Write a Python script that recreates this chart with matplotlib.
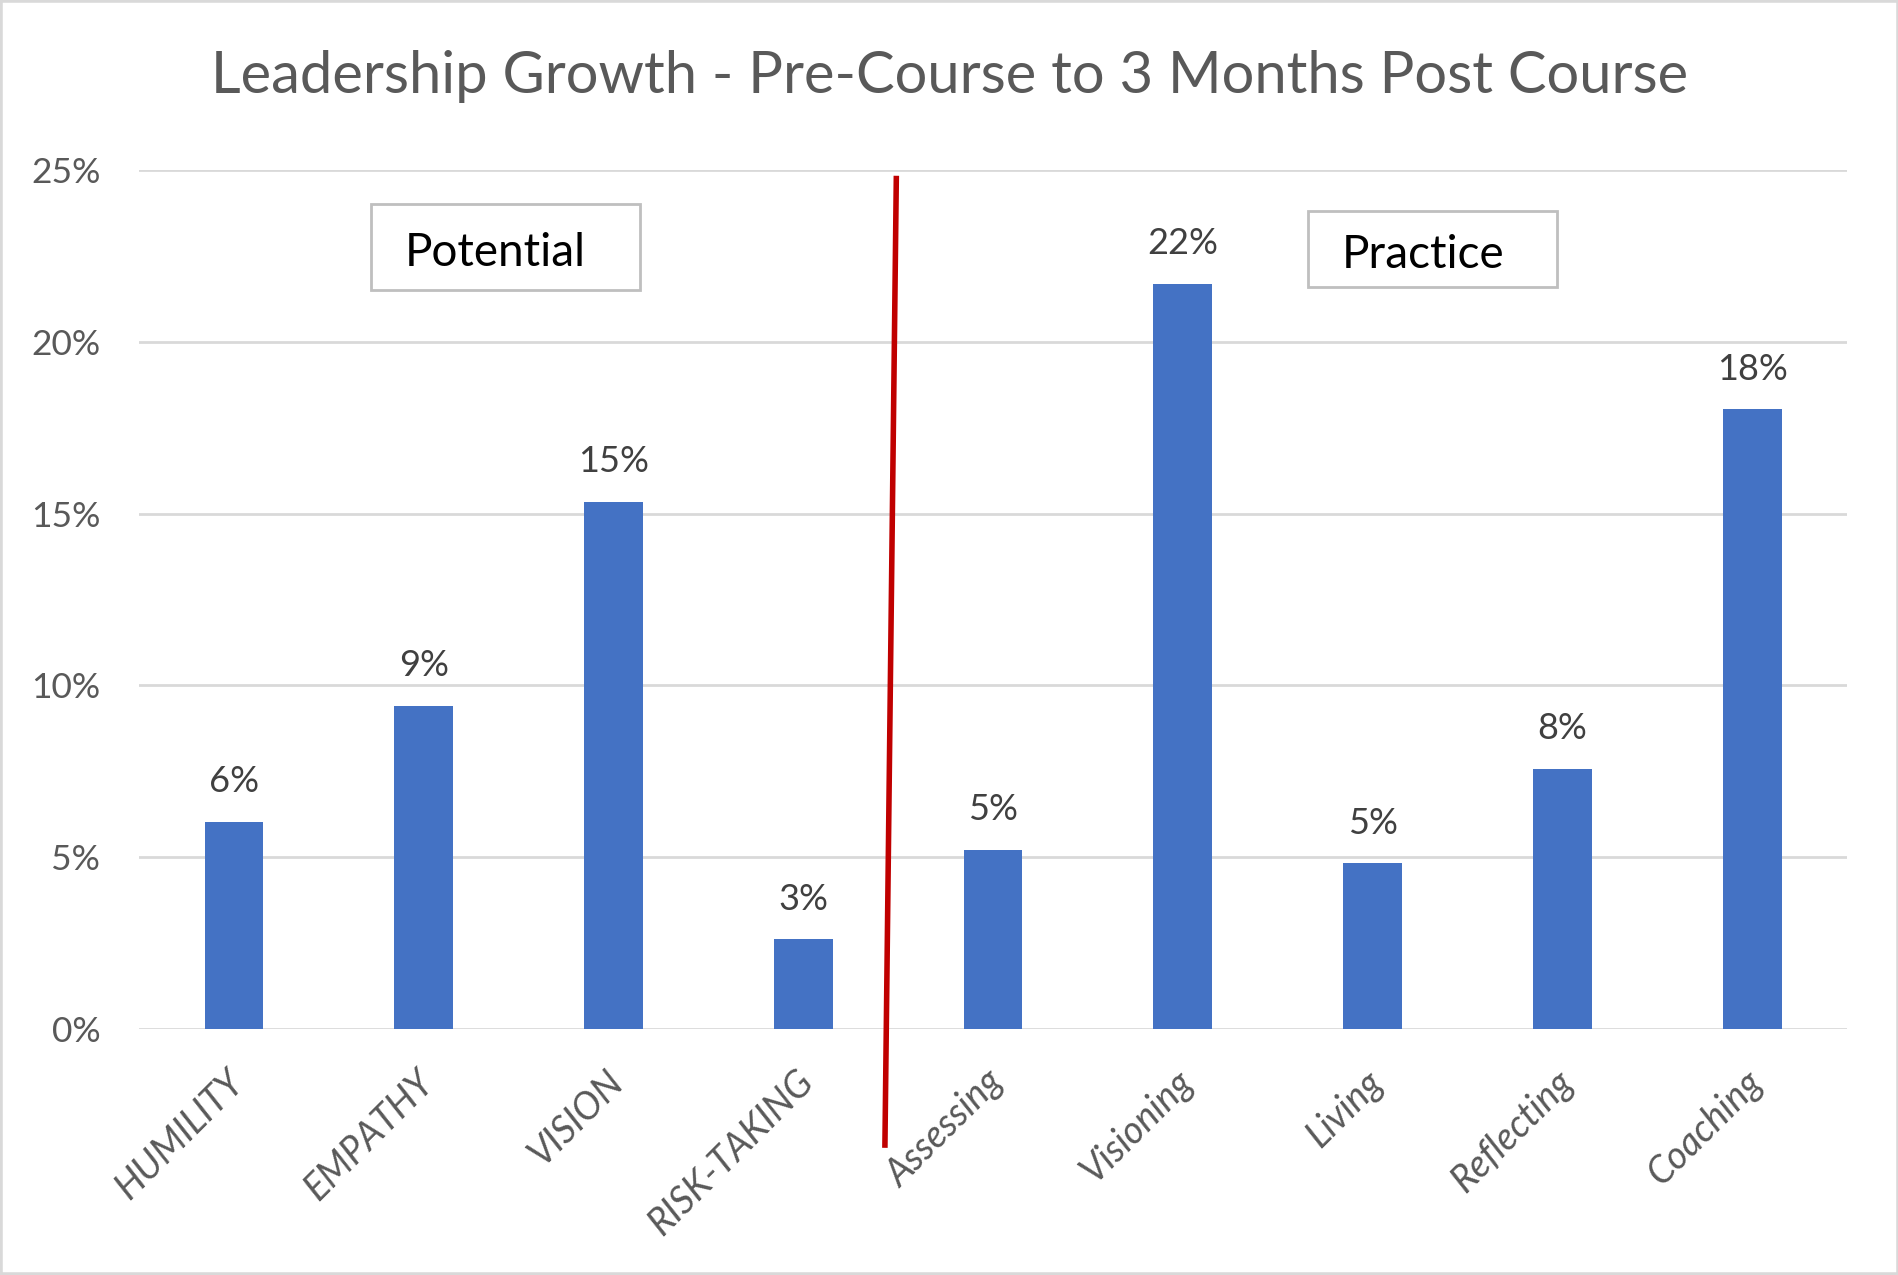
#!/usr/bin/env python3
# -*- coding: utf-8 -*-

import matplotlib
matplotlib.use('Agg')
import matplotlib.pyplot as plt
from matplotlib.patches import Rectangle
from matplotlib.ticker import FuncFormatter
from matplotlib.transforms import ScaledTranslation

# данные
categories = ['HUMILITY', 'EMPATHY', 'VISION', 'RISK-TAKING',
              'Assessing', 'Visioning', 'Living', 'Reflecting', 'Coaching']
growth = [0.0602, 0.0940, 0.1535, 0.0261, 0.0521, 0.2169, 0.0482, 0.0757, 0.1803]
labels = ['6%', '9%', '15%', '3%', '5%', '22%', '5%', '8%', '18%']
yticks = [0, 0.05, 0.10, 0.15, 0.20, 0.25]

plt.rcParams['font.family'] = ['Lato', 'DejaVu Sans']

fig = plt.figure(figsize=(18.99, 12.75), dpi=100)
ax = fig.add_axes([0.0733, 0.193, 0.8993, 0.6737])

x = list(range(len(categories)))
ax.bar(x, growth, width=0.31, color='#4472C4', zorder=3)

for xi, v, s in zip(x, growth, labels):
    ax.annotate(s, (xi, v), xytext=(0, 17), textcoords='offset points',
                ha='center', va='bottom', fontsize=26, color='#404040')

ax.set_xlim(-0.5, len(categories) - 0.5)
ax.set_ylim(0, 0.25)
ax.set_yticks(yticks)
ax.yaxis.set_major_formatter(FuncFormatter(lambda v, p: '%d%%' % round(v * 100)))
ax.grid(axis='y', color='#D9D9D9', lw=2, zorder=0)
for sp in ax.spines.values():
    sp.set_visible(False)
ax.tick_params(axis='y', length=0, pad=28, labelsize=25.5, labelcolor='#595959')
ax.tick_params(axis='x', length=0, pad=28)
ax.set_xticks(x)
ax.set_xticklabels(categories, rotation=45, ha='right', rotation_mode='anchor',
                   fontsize=27, color='#595959', style='italic')
shift = ScaledTranslation(-6 / 72, 3 / 72, fig.dpi_scale_trans)
for lbl in ax.get_xticklabels():
    lbl.set_transform(lbl.get_transform() + shift)

# красная разделительная линия
ax.plot([3.49, 3.43], [0.2475, -0.0338], color='#C00000', lw=4,
        clip_on=False, zorder=5)

# подписи групп
for x0, x1, y0, y1, tx, name in [(0.72, 2.14, 0.215, 0.240, 0.90, 'Potential'),
                                 (5.66, 6.97, 0.216, 0.238, 5.84, 'Practice')]:
    ax.add_patch(Rectangle((x0, y0), x1 - x0, y1 - y0, fill=True, facecolor='white',
                           edgecolor='#BFBFBF', lw=2, zorder=4))
    ax.text(tx, (y0 + y1) / 2 - 0.0018, name, fontsize=33, color='black',
            ha='left', va='center', zorder=5)

fig.text(0.5, 0.94, 'Leadership Growth - Pre-Course to 3 Months Post Course',
         ha='center', va='center', fontsize=41.7, color='#595959')

fig.patches.append(Rectangle((0, 0), 1, 1, transform=fig.transFigure,
                             fill=False, edgecolor='#D9D9D9', lw=4))

fig.savefig('out.png', dpi=100, facecolor='white')
